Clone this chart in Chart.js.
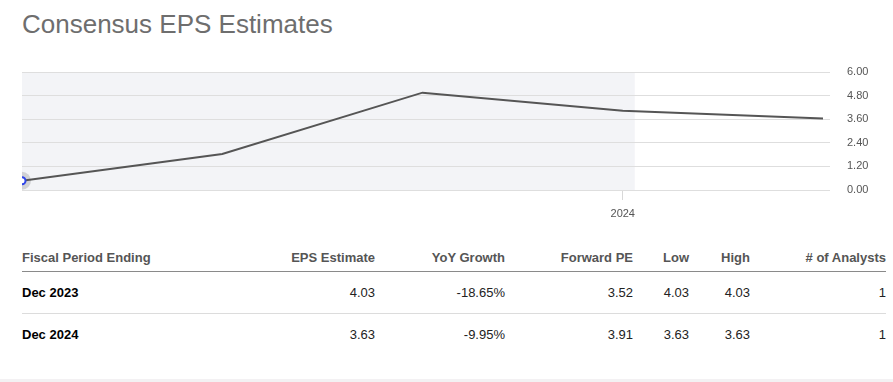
<!DOCTYPE html>
<html>
<head>
<meta charset="utf-8">
<script src="https://cdn.jsdelivr.net/npm/chart.js@4/dist/chart.umd.min.js"></script>
<style>
  html, body { margin:0; padding:0; background:#fff; width:893px; height:382px; overflow:hidden; font-family:"Liberation Sans", Arial, sans-serif; }
  #title { position:absolute; left:22px; top:9px; font-size:26px; line-height:30px; color:#6e6e6e; white-space:nowrap; }
  #chartBox { position:absolute; left:13px; top:63px; width:880px; height:162px; }
  #tbl { position:absolute; left:22px; top:243px; width:864px; border-collapse:collapse; table-layout:fixed; font-size:13px; }
  #tbl th { font-weight:bold; color:#555; height:28px; padding:0; border-bottom:1px solid #8a8a8a; vertical-align:middle; }
  #tbl td { height:41px; padding:0; color:#222; vertical-align:middle; }
  #tbl tr.r1 td { border-bottom:1px solid #dcdcdc; }
  #tbl .l { text-align:left; }
  #tbl .r { text-align:right; }
  #tbl td.per { font-weight:bold; color:#000; }
  #foot { position:absolute; left:0; top:379px; width:893px; height:3px; background:#f3f1f3; }
</style>
</head>
<body>
<div id="title">Consensus EPS Estimates</div>
<div id="chartBox"><canvas id="c"></canvas></div>
<table id="tbl">
  <colgroup>
    <col style="width:200px"><col style="width:153px"><col style="width:130px"><col style="width:128px"><col style="width:56px"><col style="width:61px"><col style="width:136px">
  </colgroup>
  <thead><tr id="hdr"></tr></thead>
  <tbody id="tbody"></tbody>
</table>
<div id="foot"></div>
<script>
// ---- chart data ----
const periods = ["Dec 2020", "Dec 2021", "Dec 2022", "Dec 2023", "Dec 2024"];
const periodX = [2021, 2022, 2023, 2024, 2025];   // period end as year value
const epsValues = [0.47, 1.83, 4.95, 4.03, 3.63];
const yTicks = [0, 1.2, 2.4, 3.6, 4.8, 6.0];
const xTickYears = [2024];
const historyEnd = 2024.06;

// ---- table data ----
const tableHeaders = ["Fiscal Period Ending", "EPS Estimate", "YoY Growth", "Forward PE", "Low", "High", "# of Analysts"];
const tablePeriods = ["Dec 2023", "Dec 2024"];
const tableEps = ["4.03", "3.63"];
const tableYoY = ["-18.65%", "-9.95%"];
const tableFwdPE = ["3.52", "3.91"];
const tableLow = ["4.03", "3.63"];
const tableHigh = ["4.03", "3.63"];
const tableAnalysts = ["1", "1"];

// build table
const hdr = document.getElementById('hdr');
tableHeaders.forEach((h, i) => {
  const th = document.createElement('th');
  th.className = i === 0 ? 'l' : 'r';
  th.textContent = h;
  hdr.appendChild(th);
});
const tbody = document.getElementById('tbody');
tablePeriods.forEach((p, r) => {
  const tr = document.createElement('tr');
  if (r === 0) tr.className = 'r1';
  const cells = [p, tableEps[r], tableYoY[r], tableFwdPE[r], tableLow[r], tableHigh[r], tableAnalysts[r]];
  cells.forEach((v, i) => {
    const td = document.createElement('td');
    td.className = i === 0 ? 'l per' : 'r';
    td.textContent = v;
    tr.appendChild(td);
  });
  tbody.appendChild(tr);
});

// shaded history band
const historyBand = {
  id: 'historyBand',
  beforeDraw(chart) {
    const { ctx, chartArea, scales } = chart;
    const x0 = scales.x.getPixelForValue(periodX[0]);
    const x1 = scales.x.getPixelForValue(historyEnd);
    ctx.save();
    ctx.fillStyle = '#f3f4f7';
    ctx.fillRect(x0, chartArea.top, x1 - x0, chartArea.bottom - chartArea.top);
    ctx.restore();
  }
};

const pts = periodX.map((x, i) => ({ x: x, y: epsValues[i] }));

new Chart(document.getElementById('c'), {
  type: 'line',
  data: {
    datasets: [
      {
        data: pts,
        borderColor: '#555555',
        borderWidth: 2,
        tension: 0,
        pointRadius: periodX.map((_, i) => i === 0 ? 3.5 : 0),
        pointBorderWidth: 2,
        pointBorderColor: '#2f45e8',
        pointBackgroundColor: '#ffffff',
        pointHoverRadius: 0,
        clip: { left: 0, top: false, right: false, bottom: false },
        order: 1
      },
      {
        data: [pts[0]],
        showLine: false,
        pointRadius: 9,
        pointBorderWidth: 0,
        pointBackgroundColor: 'rgba(0,0,0,0.14)',
        pointHoverRadius: 0,
        clip: { left: 0, top: false, right: false, bottom: false },
        order: 2
      }
    ]
  },
  options: {
    responsive: true,
    maintainAspectRatio: false,
    animation: false,
    events: [],
    layout: { padding: 0 },
    plugins: { legend: { display: false }, tooltip: { enabled: false }, title: { display: false } },
    scales: {
      x: {
        type: 'linear',
        min: periodX[0],
        max: 2025.035,
        afterBuildTicks(scale) { scale.ticks = xTickYears.map(v => ({ value: v })); },
        afterFit(scale) { scale.height = 35; },
        border: { display: false },
        grid: { drawOnChartArea: false, drawTicks: true, tickLength: 10, color: '#d8d8d8', lineWidth: 1 },
        ticks: { color: '#555', padding: 7, font: { family: '"Liberation Sans", Arial, sans-serif', size: 11 }, callback: v => String(v), maxRotation: 0 }
      },
      y: {
        position: 'right',
        min: 0,
        max: 6,
        afterBuildTicks(scale) { scale.ticks = yTicks.map(v => ({ value: v })); },
        afterFit(scale) { scale.width = 63; },
        border: { display: false },
        grid: { drawTicks: true, tickLength: 17, tickColor: 'rgba(0,0,0,0)', color: '#dedede', lineWidth: 1 },
        ticks: { color: '#555', padding: 0, font: { family: '"Liberation Sans", Arial, sans-serif', size: 11 }, callback: v => Number(v).toFixed(2) }
      }
    }
  },
  plugins: [historyBand]
});
</script>
</body>
</html>
